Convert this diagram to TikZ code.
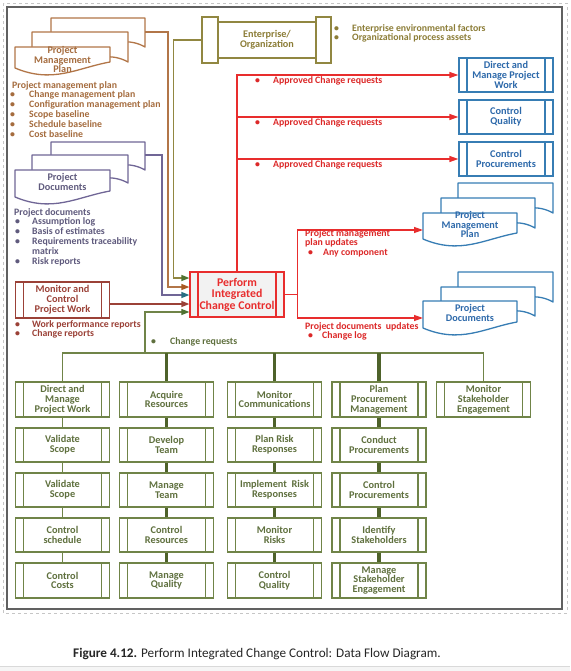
\documentclass[tikz,border=0pt]{standalone}
\usepackage{fontspec}
\setmainfont{Carlito}
\usetikzlibrary{arrows.meta,calc}

\definecolor{grbd}{RGB}{112,132,72}
\definecolor{grtx}{RGB}{95,112,62}
\definecolor{grthick}{RGB}{78,98,42}
\definecolor{brn}{RGB}{178,118,72}
\definecolor{brntx}{RGB}{165,108,62}
\definecolor{brnhead}{RGB}{170,90,35}
\definecolor{pur}{RGB}{112,102,150}
\definecolor{purtx}{RGB}{95,90,125}
\definecolor{dred}{RGB}{155,65,55}
\definecolor{rd}{RGB}{232,45,45}
\definecolor{rdtx}{RGB}{220,40,40}
\definecolor{blu}{RGB}{55,125,180}
\definecolor{blutx}{RGB}{45,105,170}
\definecolor{olv}{RGB}{145,135,65}
\definecolor{olvtx}{RGB}{140,125,55}
\definecolor{tealc}{RGB}{40,110,130}
\definecolor{garrow}{RGB}{80,115,50}

% back page of a document stack: colour, x0, top, x1, bottom
\newcommand{\docpg}[5]{\draw[#1,line width=1.3pt,fill=white,line join=round] (#2,#3) -- (#4,#3) -- (#4,#5) .. controls ({#4-0.33*(#4-#2)},{#5-18}) and ({#2+0.33*(#4-#2)},{#5+18}) .. (#2,#5) -- cycle;}
% front page of a document stack
\newcommand{\docfr}[5]{\draw[#1,line width=1.3pt,fill=white,line join=round] (#2,#3) -- (#4,#3) -- (#4,{#5-6}) .. controls ({#4-0.35*(#4-#2)},{#5}) and ({#2+0.4*(#4-#2)},{#5+16}) .. (#2,#5) -- cycle;}

\tikzset{
  x=1pt,y=-1pt,
  txt/.style={font=\fontsize{10.2}{9.8}\selectfont\bfseries, inner sep=0pt, align=center},
  lst/.style={font=\fontsize{9.8}{9.8}\selectfont\bfseries, inner sep=0pt, anchor=north west},
  procbox/.style 2 args={draw=#1, text=#2, line width=1.3pt, minimum width=94pt, minimum height=34pt,
    inner sep=0pt, align=center, font=\fontsize{10.3}{9.8}\selectfont\bfseries,
    path picture={\draw[#1,line width=1.3pt]
      ([xshift=8pt]path picture bounding box.north west) -- ([xshift=8pt]path picture bounding box.south west)
      ([xshift=-8pt]path picture bounding box.north east) -- ([xshift=-8pt]path picture bounding box.south east);}},
  gbox/.style={procbox={grbd}{grtx}},
  gbox3/.style={procbox={grbd}{grtx}, minimum height=35pt},
  bbox/.style={procbox={blu}{blutx}},
  thinln/.style={grbd, line width=1.1pt},
  thickln/.style={grthick, line width=3.5pt},
  redln/.style={rd, line width=1.3pt, -{Triangle[length=9pt,width=6pt]}},
  inln/.style 2 args={#1, line width=1.3pt, -{Triangle[length=8pt,width=6pt,color=#2]}},
}

\begin{document}
\begin{tikzpicture}
\useasboundingbox (0,0) rectangle (570,671);
\fill[white] (0,0) rectangle (570,671);
\fill[gray!8] (0,666) rectangle (570,671);
\draw[gray!30] (0,666) -- (570,666);
\draw[gray!45, dashed, line width=0.6pt] (3.5,3.5) rectangle (567,613);
\draw[black!62, line width=2pt] (7,7) rectangle (562,609);

% ---------- Project management plan (brown) ----------
\docpg{brn}{51}{18}{145}{47}
\docpg{brn}{32}{32}{128}{62}
\docfr{brn}{15}{47}{110}{68}
\node[txt, text=brntx] (pmp) at (62.5,59.5) {Project\\Management\\Plan};
\coordinate (pmpout) at (145,32);
\node[lst, text=brntx] (pmplist) at (10,81) {\begin{tabular}{@{}p{19pt}@{}l@{}}
\multicolumn{2}{@{}l@{}}{\hspace{2pt}Project management plan}\\
•&Change management plan\\
•&Configuration management plan\\
•&Scope baseline\\
•&Schedule baseline\\
•&Cost baseline
\end{tabular}};

% ---------- Project documents (purple) ----------
\docpg{pur}{51}{142}{145}{170}
\docpg{pur}{32}{155}{128}{183}
\docfr{pur}{15}{170}{110}{197}
\node[txt, text=purtx] (pd) at (62.5,182) {Project\\Documents};
\coordinate (pdout) at (145,155);
\node[lst, text=purtx] (pdlist) at (14,208) {\begin{tabular}{@{}p{18pt}@{}l@{}}
\multicolumn{2}{@{}l@{}}{Project documents}\\
\hspace{1pt}•&Assumption log\\
\hspace{1pt}•&Basis of estimates\\
\hspace{1pt}•&Requirements traceability\\
&matrix\\
\hspace{1pt}•&Risk reports
\end{tabular}};

% ---------- Monitor and control ----------
\node[procbox={dred}{dred}, minimum height=36pt] (mcpw) at (62.5,300) {Monitor and\\Control\\Project Work};
\node[lst, text=dred] (mcpwlist) at (15,320) {\begin{tabular}{@{}p{17pt}@{}l@{}}
•&Work performance reports\\
•&Change reports
\end{tabular}};

% ---------- Enterprise ----------
\node[draw=olv, line width=1.3pt, fill=white, minimum width=16pt, minimum height=46pt, inner sep=0pt] (entl) at (210,40) {};
\node[draw=olv, line width=1.3pt, fill=white, minimum width=15pt, minimum height=46pt, inner sep=0pt] (entr) at (323.5,40) {};
\node[draw=olv, line width=1.3pt, fill=white, minimum width=98pt, minimum height=36pt, txt, text=olvtx] (ent) at (267,40) {Enterprise/\\Organization};
\node[lst, text=olvtx] (entlist) at (334,24) {\begin{tabular}{@{}p{18pt}@{}l@{}}
•&Enterprise environmental factors\\
•&Organizational process assets
\end{tabular}};

% ---------- Perform Integrated Change Control ----------
\node[procbox={rd}{rd}, fill=gray!10, minimum height=45pt, font=\fontsize{11.8}{11.5}\selectfont\bfseries] (picc) at (237,294.5) {Perform\\Integrated\\Change Control};
\coordinate (pin1) at ([yshift=16.5pt]picc.west);
\coordinate (pin2) at ([yshift=7.5pt]picc.west);
\coordinate (pin3) at ([yshift=-0.5pt]picc.west);
\coordinate (pin4) at ([yshift=-9.5pt]picc.west);
\coordinate (pin5) at ([yshift=-17.5pt]picc.west);

% ---------- Blue targets ----------
\node[bbox] (dmw) at (506,75) {Direct and\\Manage Project\\Work};
\node[bbox] (cq) at (506,117) {Control\\Quality};
\node[bbox] (cp) at (506,159) {Control\\Procurements};

\docpg{blu}{458}{183}{553}{213}
\docpg{blu}{441}{198}{535}{228}
\docfr{blu}{423}{213}{517}{239}
\node[txt, text=blutx] (bpmp) at (470,224.5) {Project\\Management\\Plan};
\docpg{blu}{458}{272}{553}{302}
\docpg{blu}{441}{287}{535}{316}
\docfr{blu}{423}{301}{517}{328}
\node[txt, text=blutx] (bpd) at (470,313) {Project\\Documents};
\coordinate (rpm) at (423,230);
\coordinate (rpd) at (423,318);

% ---------- Red outputs ----------
\draw[redln] (picc.north) |- (dmw.west);
\draw[redln] (picc.north) |- (cq.west);
\draw[redln] (picc.north) |- (cp.west);
\draw[redln] (picc.east) -- ++(13,0) |- (rpm);
\draw[redln] (picc.east) -- ++(13,0) |- (rpd);

\node[lst, text=rdtx] (acr1) at (255,76) {\begin{tabular}{@{}p{18pt}@{}l@{}}•&Approved Change requests\end{tabular}};
\node[lst, text=rdtx] (acr2) at (255,118) {\begin{tabular}{@{}p{18pt}@{}l@{}}•&Approved Change requests\end{tabular}};
\node[lst, text=rdtx] (acr3) at (255,160) {\begin{tabular}{@{}p{18pt}@{}l@{}}•&Approved Change requests\end{tabular}};
\node[lst, text=rdtx] (pmpu) at (305,229) {\begin{tabular}{@{}p{18pt}@{}l@{}}
\multicolumn{2}{@{}l@{}}{Project management}\\
\multicolumn{2}{@{}l@{}}{plan updates}\\
\hspace{3pt}•&Any component
\end{tabular}};
\node[lst, text=rdtx] (pdu) at (305,322) {\begin{tabular}{@{}p{17pt}@{}l@{}}
\multicolumn{2}{@{}l@{}}{Project documents~ updates}\\
\hspace{3pt}•&Change log
\end{tabular}};

% ---------- Inputs to PICC ----------
\draw[inln={olv}{garrow}] (entl.west) -- ++(-28,0) |- (pin1);
\draw[inln={brn}{brnhead}] (pmpout) -- ++(23,0) |- (pin2);
\draw[inln={pur}{tealc}] (pdout) -- ++(17,0) |- (pin3);
\draw[inln={dred}{dred}] (mcpw.east |- pin4) -- (pin4);

% ---------- Green grid ----------
\node[gbox3] (c1r1) at (62.5,399.5) {Direct and\\Manage\\Project Work};
\node[gbox] (c1r2) at (62.5,445) {Validate\\Scope};
\node[gbox] (c1r3) at (62.5,490) {Validate\\Scope};
\node[gbox] (c1r4) at (62.5,535) {Control\\schedule};
\node[gbox3] (c1r5) at (62.5,580.5) {Control\\Costs};

\node[gbox3] (c2r1) at (166.5,399.5) {Acquire\\Resources};
\node[gbox] (c2r2) at (166.5,445) {Develop\\Team};
\node[gbox] (c2r3) at (166.5,490) {Manage\\Team};
\node[gbox] (c2r4) at (166.5,535) {Control\\Resources};
\node[gbox3] (c2r5) at (166.5,580.5) {Manage\\Quality};

\node[gbox3] (c3r1) at (274.5,399.5) {Monitor\\Communications};
\node[gbox] (c3r2) at (274.5,445) {Plan Risk\\Responses};
\node[gbox] (c3r3) at (274.5,490) {Implement~ Risk\\Responses};
\node[gbox] (c3r4) at (274.5,535) {Monitor\\Risks};
\node[gbox3] (c3r5) at (274.5,580.5) {Control\\Quality};

\node[gbox3] (c4r1) at (379,399.5) {Plan\\Procurement\\Management};
\node[gbox] (c4r2) at (379,445) {Conduct\\Procurements};
\node[gbox] (c4r3) at (379,490) {Control\\Procurements};
\node[gbox] (c4r4) at (379,535) {Identify\\Stakeholders};
\node[gbox3] (c4r5) at (379,580.5) {Manage\\Stakeholder\\Engagement};

\node[gbox3] (c5r1) at (483.5,399.5) {Monitor\\Stakeholder\\Engagement};

\coordinate (busmid) at (145,353);
\draw[thinln] (c1r1.north) |- (busmid) -| (c5r1.north);
\draw[inln={grbd}{garrow}, line width=1.1pt] (busmid) |- (pin5);
\draw[thickln] (c2r1.north) -- (c2r1.north |- busmid);
\draw[thickln] (c3r1.north) -- (c3r1.north |- busmid);
\draw[thickln] (c4r1.north) -- (c4r1.north |- busmid);
\node[lst, text=grtx] (chreq) at (151,337) {\begin{tabular}{@{}p{19pt}@{}l@{}}•&Change requests\end{tabular}};

\draw[thinln] (c1r1.south) -- (c1r2.north);
\draw[thinln] (c1r2.south) -- (c1r3.north);
\draw[thinln] (c1r3.south) -- (c1r4.north);
\draw[thinln] (c1r4.south) -- (c1r5.north);
\foreach \c in {2,3,4}{
  \draw[thickln] (c\c r1.south) -- (c\c r2.north);
  \draw[thickln] (c\c r2.south) -- (c\c r3.north);
  \draw[thickln] (c\c r3.south) -- (c\c r4.north);
  \draw[thickln] (c\c r4.south) -- (c\c r5.north);
}

% ---------- Caption ----------
\node[font=\fontsize{13.2}{15}\selectfont, text=black!85, inner sep=0pt] (cap) at (257,654) {\textbf{Figure 4.12.} Perform Integrated Change Control: Data Flow Diagram.};
\end{tikzpicture}
\end{document}
